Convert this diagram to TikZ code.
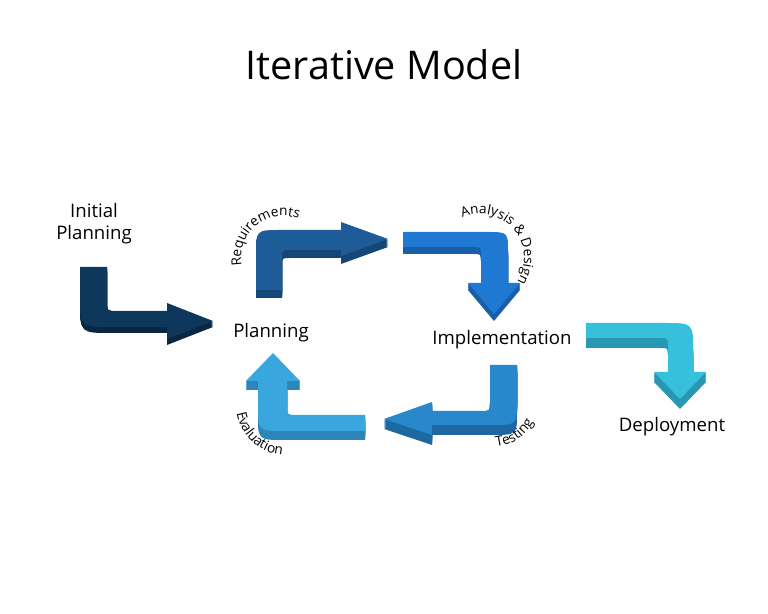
\documentclass[tikz,border=0pt]{standalone}
\usepackage{fontspec}
\setmainfont{Open Sans}
\usetikzlibrary{decorations.text}

% colori delle frecce (faccia e lato)
\definecolor{blunotte}{RGB}{14,55,92}
\definecolor{blunottelato}{RGB}{9,38,66}
\definecolor{bluscuro}{RGB}{30,92,152}
\definecolor{bluscurolato}{RGB}{21,70,120}
\definecolor{bluvivo}{RGB}{31,121,211}
\definecolor{bluvivolato}{RGB}{24,94,168}
\definecolor{ciano}{RGB}{54,192,220}
\definecolor{cianolato}{RGB}{40,152,178}
\definecolor{blumedio}{RGB}{41,135,204}
\definecolor{blumediolato}{RGB}{30,104,162}
\definecolor{azzurro}{RGB}{58,166,222}
\definecolor{azzurrolato}{RGB}{44,134,186}

% freccia con spessore: #1 faccia, #2 lato, #3 spessore, #4 contorno
\newcommand{\frecciatre}[4]{%
  \foreach \d in {1,...,#3}
    \fill[#2, shift={(0,\d)}] #4;
  \fill[#1] #4;}

\begin{document}
\begin{tikzpicture}[x=0.02cm, y=-0.02cm]

% definizione stili dei testi
\tikzset{titolo/.style={font=\fontsize{22.5}{27}\selectfont, anchor=base}}
\tikzset{fase/.style={font=\fontsize{10.6}{13}\selectfont, anchor=base, align=center}}
\tikzset{etichetta/.style={decorate, decoration={text along path, text align=center,
  text={|\fontsize{7.8}{9}\selectfont|#1}}}}

% bordo della figura
\useasboundingbox (0,0) rectangle (768,614);

% titolo
\node[titolo] (titolo) at (384,80) {Iterative Model};

% nomi delle fasi
\node[fase] (iniziale) at (94,240) {Initial\\Planning};
\node[fase] (planning) at (271,338) {Planning};
\node[fase] (implementation) at (502,345) {Implementation};
\node[fase] (deployment) at (672,432) {Deployment};

% frecce piegate
\frecciatre{blunotte}{blunottelato}{6}{(80,267) -- (107,267) -- (107,300) .. controls (107,311) .. (118,311) -- (167,311) -- (167,303) -- (213,321) -- (167,339) -- (167,327) -- (112,327) .. controls (80,327) .. (80,296) -- cycle}
\frecciatre{bluscuro}{bluscurolato}{8}{(256,290) -- (256,255) .. controls (256,230) .. (281,230) -- (341,230) -- (341,222) -- (388,239) -- (341,256) -- (341,250) -- (290,250) .. controls (282,250) .. (282,258) -- (282,290) -- cycle}
\frecciatre{bluvivo}{bluvivolato}{7}{(403,232) -- (487,232) .. controls (508,232) .. (508,253) -- (508,283) -- (520,283) -- (494,314) -- (468,283) -- (481,283) -- (481,255) .. controls (481,247) .. (473,247) -- (403,247) -- cycle}
\frecciatre{ciano}{cianolato}{10}{(586,323) -- (665,323) .. controls (693,323) .. (693,351) -- (693,372) -- (706,372) -- (680,399) -- (654,372) -- (668,372) -- (668,346) .. controls (668,338) .. (660,338) -- (586,338) -- cycle}
\frecciatre{blumedio}{blumediolato}{10}{(490,365) -- (517,365) -- (517,400) .. controls (517,425) .. (492,425) -- (432,425) -- (432,435) -- (384,419) -- (432,402) -- (432,411) -- (480,411) .. controls (490,411) .. (490,401) -- cycle}
\frecciatre{azzurro}{azzurrolato}{9}{(365,415) -- (297,415) .. controls (287,415) .. (287,405) -- (287,381) -- (300,381) -- (273,353) -- (246,381) -- (258,381) -- (258,405) .. controls (258,431) .. (284,431) -- (365,431) -- cycle}

% scritte lungo gli archi
\path[etichetta={Requirements}] ([shift={(172:42)}]283,258) arc[start angle=172, end angle=289, radius=42];
\path[etichetta={Analysis {\&} Design}] ([shift={(247:44)}]480,258) arc[start angle=247, end angle=392, radius=44];
\path[etichetta={Testing}] ([shift={(88:47)}]492,400) arc[start angle=88, end angle=25, radius=47];
\path[etichetta={Evaluation}] ([shift={(175:50)}]286,405) arc[start angle=175, end angle=90, radius=50];

\end{tikzpicture}
\end{document}
